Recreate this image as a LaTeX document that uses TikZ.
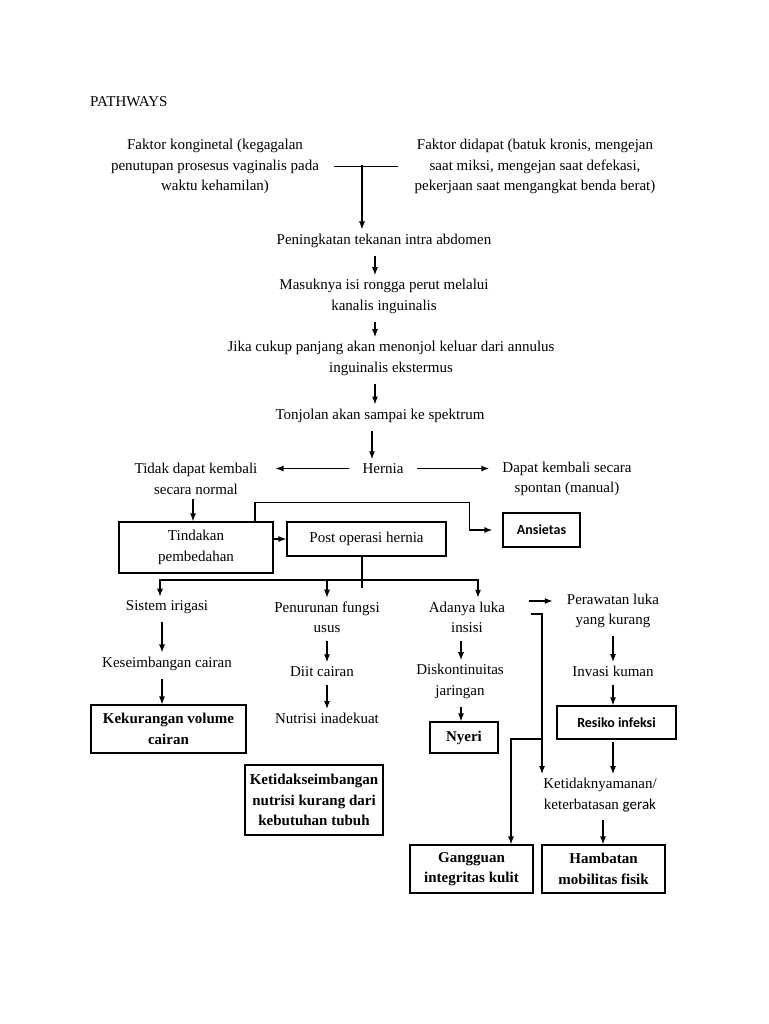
\documentclass[tikz,border=0pt]{standalone}
\usepackage{fontspec}
\setmainfont{Liberation Serif}
\newfontfamily\carlito{Carlito}
\usetikzlibrary{arrows.meta}
\begin{document}
\begin{tikzpicture}[x=1pt,y=-1pt,
  every node/.style={font=\fontsize{15}{20.5}\selectfont},
  txt/.style={align=center, inner xsep=0pt, inner ysep=4pt, yshift=-1.5pt},
  box/.style={draw, line width=1.2pt, align=center, inner sep=0pt},
  bbox/.style={box, font=\fontsize{15}{20.5}\selectfont\bfseries},
  sbox/.style={box, font=\fontsize{14}{18}\selectfont\carlito\bfseries},
  ln/.style={line width=1.2pt},
  arr/.style={ln, -{Latex[length=8pt,width=6pt]}},
  sarr/.style={arr, shorten <=4pt}]
\useasboundingbox[fill=white] (0,0) rectangle (768,1024);

% title and causes
\node[anchor=west, inner sep=0pt] (title) at (90,102) {PATHWAYS};
\node[txt] (fk) at (215,165) {Faktor konginetal (kegagalan\\penutupan prosesus vaginalis pada\\waktu kehamilan)};
\node[txt] (fd) at (535,165) {Faktor didapat (batuk kronis, mengejan\\saat miksi, mengejan saat defekasi,\\pekerjaan saat mengangkat benda berat)};
\coordinate (tj) at (362,165);
\draw[ln] ([xshift=15pt]fk.east) -- ([xshift=-16pt]fd.west);

% main chain
\node[txt] (pen) at (384,239) {Peningkatan tekanan intra abdomen};
\node[txt] (mas) at (384,295) {Masuknya isi rongga perut melalui\\kanalis inguinalis};
\node[txt] (jika) at (391,357) {Jika cukup panjang akan menonjol keluar dari annulus\\inguinalis ekstermus};
\node[txt] (ton) at (380,414) {Tonjolan akan sampai ke spektrum};
\node[txt] (her) at (383,467) {Hernia};
\node[txt] (tidak) at (196,477.5) {Tidak dapat kembali\\secara normal};
\node[txt] (dapat) at (567,477.5) {Dapat kembali secara\\spontan (manual)};

\draw[arr] (tj) -- (tj |- pen.north);
\draw[sarr] ([xshift=-9pt]pen.south) -- ([xshift=-9pt]pen.south |- mas.north);
\draw[sarr] ([xshift=-9pt]mas.south) -- ([xshift=-9pt]mas.south |- jika.north);
\draw[sarr] ([xshift=-16pt]jika.south) -- ([xshift=-16pt]jika.south |- ton.north);
\draw[sarr] ([xshift=-8pt]ton.south) -- ([xshift=-8pt]ton.south |- her.north);
\draw[arr] ([xshift=-13pt]her.west) -- ([xshift=18pt]tidak.east |- her.west);
\draw[arr] ([xshift=13pt]her.east) -- ([xshift=-13pt]dapat.west |- her.east);

% surgery
\node[box, minimum width=154pt, minimum height=51pt] (tind) at (196,547.5) {Tindakan\\pembedahan};
\node[box, minimum width=159pt, minimum height=34pt] (post) at (366.5,539) {Post operasi hernia};
\node[sbox, minimum width=77pt, minimum height=34pt] (ans) at (541.5,530) {Ansietas};

\draw[arr] ([xshift=-3pt]tidak.south) -- ([xshift=-3pt]tidak.south |- tind.north);
\draw[arr] (tind.east |- post.west) -- (post.west);
\draw[arr] ([xshift=59pt]tind.north) -- ++(0,-19) -| ([xshift=-33pt]ans.west) -- ([xshift=-10pt]ans.west);

% branch bar
\coordinate (bar) at (362,580);
\draw[ln] (post.south -| bar) -- ([yshift=-8pt]bar);

\node[txt] (sis) at (167,606) {Sistem irigasi};
\node[txt] (pen2) at (327,616) {Penurunan fungsi\\usus};
\node[txt] (ada) at (467,616) {Adanya luka\\insisi};
\node[txt] (per) at (613,609.5) {Perawatan luka\\yang kurang};

\draw[arr] (bar) -| ([xshift=-7pt]sis.north);
\draw[arr] (bar) -| ([xshift=11pt]ada.north);
\draw[arr] (pen2.north |- bar) -- (pen2.north);

% column 1
\node[txt] (kes) at (167,662) {Keseimbangan cairan};
\node[bbox, minimum width=155pt, minimum height=48pt] (kek) at (168.5,729) {Kekurangan volume\\cairan};
\draw[sarr] ([xshift=-5pt]sis.south) -- ([xshift=-5pt]sis.south |- kes.north);
\draw[sarr] ([xshift=-5pt]kes.south) -- ([xshift=-5pt]kes.south |- kek.north);

% column 2
\node[txt] (diit) at (322,670) {Diit cairan};
\node[txt] (nut) at (327,717) {Nutrisi inadekuat};
\node[bbox, minimum width=138pt, minimum height=70pt] (ketid) at (314,800) {Ketidakseimbangan\\nutrisi kurang dari\\kebutuhan tubuh};
\draw[sarr] (pen2.south) -- (pen2.south |- diit.north);
\draw[sarr] ([xshift=5pt]diit.south) -- ([xshift=5pt]diit.south |- nut.north);

% column 3
\node[txt] (dis) at (460,680) {Diskontinuitas\\jaringan};
\node[bbox, minimum width=68pt, minimum height=31pt] (nyeri) at (464,737.5) {Nyeri};
\draw[sarr] ([xshift=-6pt]ada.south) -- ([xshift=-6pt]ada.south |- dis.north);
\draw[sarr] ([xshift=1pt]dis.south) -- ([xshift=1pt]dis.south |- nyeri.north);

% right column
\node[txt] (inv) at (613,670) {Invasi kuman};
\node[sbox, minimum width=119pt, minimum height=33pt] (res) at (616.5,722.5) {Resiko infeksi};
\node[txt] (ketn) at (600,793.5) {Ketidaknyamanan/\\keterbatasan {\carlito gerak}};
\node[bbox, minimum width=123pt, minimum height=48pt] (ham) at (603.5,869) {Hambatan\\mobilitas fisik};
\node[bbox, minimum width=123pt, minimum height=48pt] (gang) at (471.5,869) {Gangguan\\integritas kulit};

\coordinate (pa) at (529,601);
\draw[arr] (pa) -- ([xshift=-14pt]pa -| per.west);
\draw[sarr] (per.south) -- (per.south |- inv.north);
\draw[sarr] (inv.south) -- (inv.south |- res.north);
\draw[arr] ([xshift=-3.5pt,yshift=-2pt]res.south) -- ([xshift=-3.5pt]res.south |- ketn.north);
\draw[sarr] ([xshift=3pt]ketn.south) -- ([xshift=3pt]ketn.south |- ham.north);

\coordinate (pb) at (531,614);
\coordinate (pc) at (542,739);
\draw[arr] (pb) -| (pc) -- (pc |- ketn.north);
\draw[arr] (pc) -| ([xshift=39.5pt]gang.north);
\end{tikzpicture}
\end{document}
